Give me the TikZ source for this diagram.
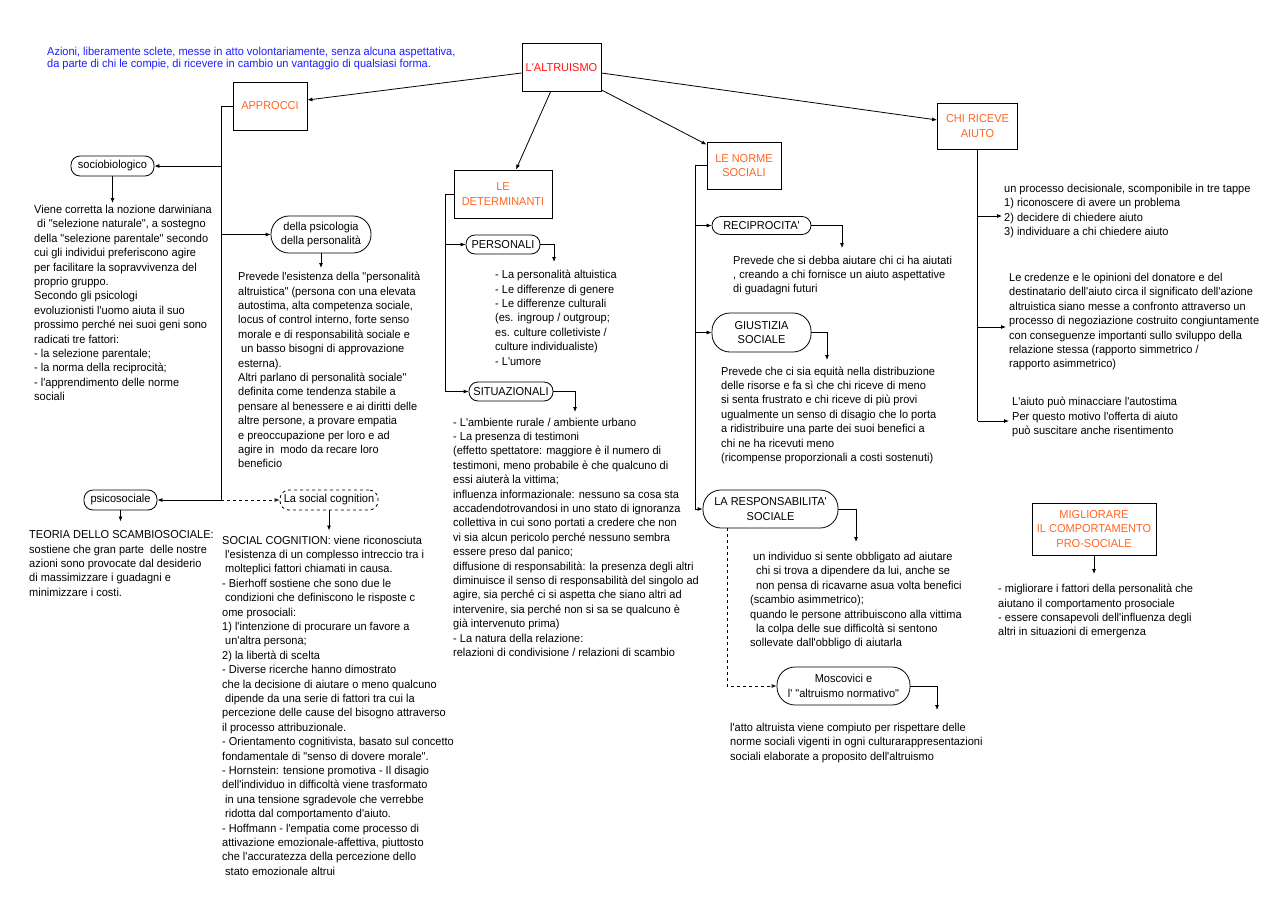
\documentclass[tikz,border=0pt]{standalone}
\usepackage{fontspec}
\setmainfont{Liberation Sans}[Ligatures=TeXOff, FakeStretch=0.956]
\usetikzlibrary{arrows.meta}
\definecolor{boxorange}{RGB}{255,102,34}
\definecolor{titlered}{RGB}{255,20,20}
\definecolor{defblue}{RGB}{30,30,255}
\newcommand{\lsp}{\hspace*{3pt}}
\begin{document}
\begin{tikzpicture}[x=1pt,y=1pt,
  font=\fontsize{11.5}{14.4}\selectfont,
  box/.style={draw, line width=0.8pt, align=center, text=boxorange, inner sep=2pt},
  pill/.style={draw, line width=0.8pt, rounded corners=9pt, align=center, inner sep=1pt},
  tall/.style={pill, rounded corners=18pt},
  txt/.style={anchor=north west, align=left, inner sep=0pt},
  link/.style={line width=0.8pt, -{Latex[length=5pt,width=4pt]}},
  trunk/.style={line width=0.8pt},
  hint/.style={line width=0.8pt, dashed, -{Latex[open,length=5pt,width=4pt]}}]
\path[fill=white, use as bounding box] (0,0) rectangle (1280,-905);

% main boxes
\node[box, text=titlered, minimum width=79pt, minimum height=48pt] (alt) at (561.5,-67.5) {L'ALTRUISMO};
\node[box, minimum width=74pt, minimum height=48pt] (app) at (270,-106) {APPROCCI};
\node[box, minimum width=98pt, minimum height=48pt] (det) at (503,-194) {LE\\DETERMINANTI};
\node[box, minimum width=74pt, minimum height=47pt] (norme) at (744,-165.5) {LE NORME\\SOCIALI};
\node[box, minimum width=80pt, minimum height=46pt] (chi) at (977.5,-126) {CHI RICEVE\\AIUTO};
\node[box, minimum width=124pt, minimum height=52pt] (migl) at (1094,-529) {MIGLIORARE\\IL COMPORTAMENTO\\PRO-SOCIALE};

\node[txt, text=defblue, font=\fontsize{11.5}{12.8}\selectfont] (def) at (47,-46.5) {Azioni, liberamente sclete, messe in atto volontariamente, senza alcuna aspettativa,\\da parte di chi le compie, di ricevere in cambio un vantaggio di qualsiasi forma.};

% rounded boxes
\node[pill, minimum width=83pt, minimum height=20pt] (socio) at (112.5,-166) {sociobiologico};
\node[tall, minimum width=100pt, minimum height=37pt] (pers) at (321,-234.5) {della psicologia\\della personalità};
\node[pill, minimum width=73pt, minimum height=20pt] (psico) at (120.5,-500) {psicosociale};
\node[pill, dashed, minimum width=98pt, minimum height=20pt] (soccog) at (329,-500) {La social cognition};
\node[pill, minimum width=74pt, minimum height=19pt] (personali) at (503,-244.5) {PERSONALI};
\node[pill, minimum width=84pt, minimum height=19pt] (situaz) at (511,-391.5) {SITUAZIONALI};
\node[pill, minimum width=99pt, minimum height=18pt] (recip) at (761.5,-225.5) {RECIPROCITA'};
\node[tall, minimum width=99pt, minimum height=39pt] (giust) at (761.5,-332.5) {GIUSTIZIA\\SOCIALE};
\node[tall, minimum width=135pt, minimum height=38pt] (resp) at (770.5,-509) {LA RESPONSABILITA'\\SOCIALE};
\node[tall, minimum width=133pt, minimum height=38pt] (mosc) at (843.5,-686) {Moscovici e\\l' "altruismo normativo"};

% texts
\node[txt] (socioT) at (34,-205) {Viene corretta la nozione darwiniana\\
\lsp di "selezione naturale", a sostegno\\
della "selezione parentale" secondo\\
cui gli individui preferiscono agire\\
per facilitare la sopravvivenza del\\
proprio gruppo.\\
Secondo gli psicologi\\
evoluzionisti l'uomo aiuta il suo\\
prossimo perché nei suoi geni sono\\
radicati tre fattori:\\
- la selezione parentale;\\
- la norma della reciprocità;\\
- l'apprendimento delle norme\\
sociali};
\node[txt] (persT) at (238,-272) {Prevede l'esistenza della "personalità\\
altruistica" (persona con una elevata\\
autostima, alta competenza sociale,\\
locus of control interno, forte senso\\
morale e di responsabilità sociale e\\
\lsp un basso bisogni di approvazione\\
esterna).\\
Altri parlano di personalità sociale"\\
definita come tendenza stabile a\\
pensare al benessere e ai diritti delle\\
altre persone, a provare empatia\\
e preoccupazione per loro e ad\\
agire in~ modo da recare loro\\
beneficio};
\node[txt] (psicoT) at (29,-530.5) {TEORIA DELLO SCAMBIOSOCIALE:\\
sostiene che gran parte~ delle nostre\\
azioni sono provocate dal desiderio\\
di massimizzare i guadagni e\\
minimizzare i costi.};
\node[txt] (soccogT) at (222,-535.5) {SOCIAL COGNITION: viene riconosciuta\\
\lsp l'esistenza di un complesso intreccio tra i\\
\lsp molteplici fattori chiamati in causa.\\
- Bierhoff sostiene che sono due le\\
\lsp condizioni che definiscono le risposte c\\
ome prosociali:\\
1) l'intenzione di procurare un favore a\\
\lsp un'altra persona;\\
2) la libertà di scelta\\
- Diverse ricerche hanno dimostrato\\
che la decisione di aiutare o meno qualcuno\\
\lsp dipende da una serie di fattori tra cui la\\
percezione delle cause del bisogno attraverso\\
il processo attribuzionale.\\
- Orientamento cognitivista, basato sul concetto\\
fondamentale di "senso di dovere morale".\\
- Hornstein: tensione promotiva - Il disagio\\
dell'individuo in difficoltà viene trasformato\\
\lsp in una tensione sgradevole che verrebbe\\
\lsp ridotta dal comportamento d'aiuto.\\
- Hoffmann - l'empatia come processo di\\
attivazione emozionale-affettiva, piuttosto\\
che l'accuratezza della percezione dello\\
\lsp stato emozionale altrui};
\node[txt] (personaliT) at (495,-270) {- La personalità altuistica\\
- Le differenze di genere\\
- Le differenze culturali\\
(es. ingroup / outgroup;\\
es. culture colletiviste /\\
culture individualiste)\\
- L'umore};
\node[txt] (situazT) at (453,-417.5) {- L'ambiente rurale / ambiente urbano\\
- La presenza di testimoni\\
(effetto spettatore: maggiore è il numero di\\
testimoni, meno probabile è che qualcuno di\\
essi aiuterà la vittima;\\
influenza informazionale: nessuno sa cosa sta\\
accadendotrovandosi in uno stato di ignoranza\\
collettiva in cui sono portati a credere che non\\
vi sia alcun pericolo perché nessuno sembra\\
essere preso dal panico;\\
diffusione di responsabilità: la presenza degli altri\\
diminuisce il senso di responsabilità del singolo ad\\
agire, sia perché ci si aspetta che siano altri ad\\
intervenire, sia perché non si sa se qualcuno è\\
già intervenuto prima)\\
- La natura della relazione:\\
relazioni di condivisione / relazioni di scambio};
\node[txt] (recipT) at (733,-255.5) {Prevede che si debba aiutare chi ci ha aiutati\\
, creando a chi fornisce un aiuto aspettative\\
di guadagni futuri};
\node[txt] (giustT) at (721,-366.5) {Prevede che ci sia equità nella distribuzione\\
delle risorse e fa sì che chi riceve di meno\\
si senta frustrato e chi riceve di più provi\\
ugualmente un senso di disagio che lo porta\\
a ridistribuire una parte dei suoi benefici a\\
chi ne ha ricevuti meno\\
(ricompense proporzionali a costi sostenuti)};
\node[txt] (respT) at (750,-552) {\lsp un individuo si sente obbligato ad aiutare\\
\lsp\lsp chi si trova a dipendere da lui, anche se\\
\lsp\lsp non pensa di ricavarne asua volta benefici\\
(scambio asimmetrico);\\
quando le persone attribuiscono alla vittima\\
\lsp\lsp la colpa delle sue difficoltà si sentono\\
sollevate dall'obbligo di aiutarla};
\node[txt] (moscT) at (730,-723) {l'atto altruista viene compiuto per rispettare delle\\
norme sociali vigenti in ogni culturarappresentazioni\\
sociali elaborate a proposito dell'altruismo};
\node[txt] (chiT1) at (1004,-184) {un processo decisionale, scomponibile in tre tappe\\
1) riconoscere di avere un problema\\
2) decidere di chiedere aiuto\\
3) individuare a chi chiedere aiuto};
\node[txt] (chiT2) at (1009,-273) {Le credenze e le opinioni del donatore e del\\
destinatario dell'aiuto circa il significato dell'azione\\
altruistica siano messe a confronto attraverso un\\
processo di negoziazione costruito congiuntamente\\
con conseguenze importanti sullo sviluppo della\\
relazione stessa (rapporto simmetrico /\\
rapporto asimmetrico)};
\node[txt] (chiT3) at (1012,-397) {L'aiuto può minacciare l'autostima\\
Per questo motivo l'offerta di aiuto\\
può suscitare anche risentimento};
\node[txt] (miglT) at (998,-584) {- migliorare i fattori della personalità che\\
aiutano il comportamento prosociale\\
- essere consapevoli dell'influenza degli\\
altri in situazioni di emergenza};

% from the centre
\path[draw,link] ([yshift=-5.5pt]alt.west) -- ([yshift=6pt]app.east);
\path[draw,link] ([xshift=-11pt]alt.south) -- ([xshift=13pt]det.north);
\path[draw,link] ([yshift=2pt]alt.south east) -- ([yshift=-3pt]norme.north west);
\path[draw,link] ([yshift=-5.5pt]alt.east) -- ([yshift=6pt]chi.west);

% approcci
\coordinate (appT) at (221,-106);
\coordinate (appB) at (221,-500);
\path[draw,trunk] (app.west) -- (appT) -- (appB);
\path[draw,link] (appT |- socio) -- (socio.east);
\path[draw,link] (appT |- pers) -- (pers.west);
\path[draw,link] (appB) -- (psico.east);
\path[draw,hint] (appB) -- (soccog.west);
\path[draw,link,shorten >=2pt] (socio.south) -- (socio.south |- socioT.north);
\path[draw,link,shorten >=4pt] (pers.south) -- (pers.south |- persT.north);
\path[draw,link,shorten >=9pt] (psico.south) -- (psico.south |- psicoT.north);
\path[draw,link,shorten >=5pt] (soccog.south) -- (soccog.south |- soccogT.north);

% determinanti
\coordinate (detT) at (445,-194);
\coordinate (detB) at (445,-391.5);
\coordinate (personaliA) at (554,-262);
\coordinate (situazA) at (575,-412);
\path[draw,trunk] (det.west) -- (detT) -- (detB);
\path[draw,link] (detT |- personali) -- (personali.west);
\path[draw,link] (detB) -- (situaz.west);
\path[draw,link] (personali.east) -| (personaliA);
\path[draw,link] (situaz.east) -| (situazA);

% norme sociali
\coordinate (normeT) at (695,-165.5);
\coordinate (normeB) at (695,-509);
\coordinate (recipA) at (842,-248);
\coordinate (giustA) at (827,-360);
\coordinate (respA) at (856,-542);
\coordinate (respD) at (727,-686);
\coordinate (moscA) at (937,-710);
\path[draw,trunk] (norme.west) -- (normeT) -- (normeB);
\path[draw,link] (normeT |- recip) -- (recip.west);
\path[draw,link] (normeT |- giust) -- (giust.west);
\path[draw,link] (normeB) -- (resp.west);
\path[draw,link] (recip.east) -| (recipA);
\path[draw,link] (giust.east) -| (giustA);
\path[draw,link] (resp.east) -| (respA);
\path[draw,hint] (resp.south -| respD) -- (respD) -- (mosc.west);
\path[draw,link] (mosc.east) -| (moscA);

% chi riceve aiuto
\coordinate (chiB) at (977.5,-421);
\coordinate (chiA1) at (1002,-216);
\coordinate (chiA2) at (1006,-327);
\coordinate (chiA3) at (1009,-421);
\path[draw,trunk] (chi.south) -- (chiB);
\path[draw,link] (chiA1 -| chi.south) -- (chiA1);
\path[draw,link] (chiA2 -| chi.south) -- (chiA2);
\path[draw,link] (chiB) -- (chiA3);

% migliorare
\path[draw,link,shorten >=10pt] (migl.south) -- (migl.south |- miglT.north);
\end{tikzpicture}
\end{document}
